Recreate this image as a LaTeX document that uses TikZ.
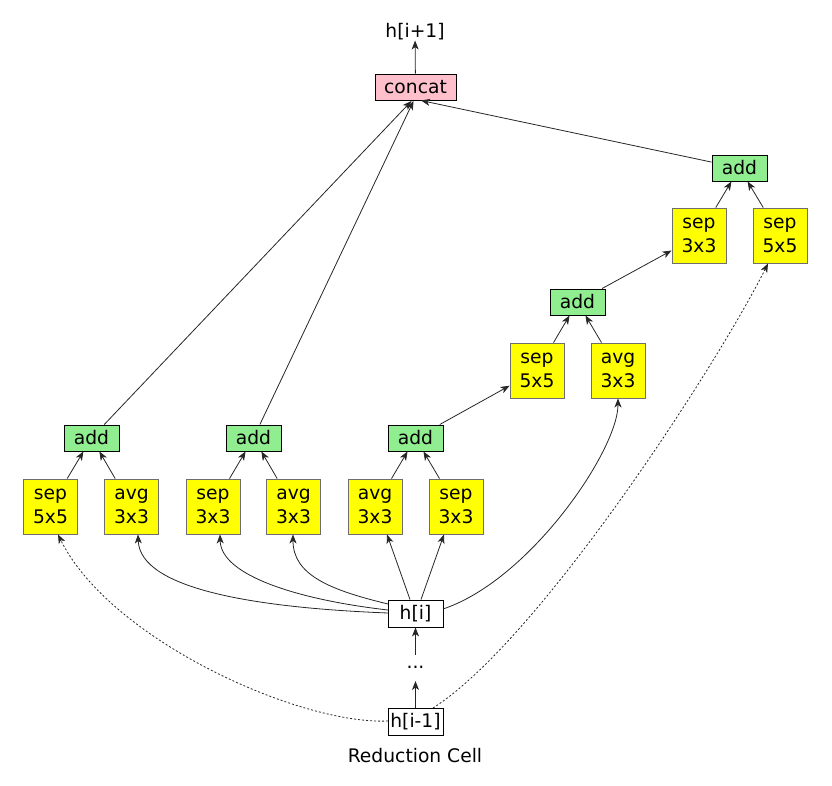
\documentclass[tikz,border=0pt]{standalone}
\usepackage{fontspec}
\setmainfont{DejaVu Sans}
\usetikzlibrary{arrows.meta}
\definecolor{lgreen}{RGB}{144,238,144}
\definecolor{lpink}{RGB}{255,192,203}
\definecolor{lyellow}{RGB}{255,255,0}
\definecolor{ybord}{RGB}{110,110,110}
\begin{document}
\begin{tikzpicture}[x=1pt,y=-1pt,
  every node/.style={font=\fontsize{18.7}{21}\selectfont, inner sep=0pt, align=center},
  opbox/.style={draw=ybord, line width=0.9pt, fill=lyellow, minimum width=54pt, minimum height=55pt, font=\fontsize{18.7}{24}\selectfont},
  addbox/.style={draw=black, line width=0.9pt, fill=lgreen, minimum width=55pt, minimum height=26pt},
  catbox/.style={draw=black, line width=0.9pt, fill=lpink, minimum width=81pt, minimum height=26pt},
  hbox/.style={draw=black, line width=0.9pt, fill=white, minimum width=55pt, minimum height=27pt},
  edge/.style={draw=black!85, line width=0.8pt, -{Stealth[length=9pt,width=7pt,inset=2.5pt]}},
  dotedge/.style={edge, dash pattern=on 2pt off 2pt}
]
\useasboundingbox (0,0) rectangle (832,786);

% nodes
\node (out) at (415,32) {h[i+1]};
\node[catbox] (concat) at (415.5,87) {concat};
\node[addbox] (addT) at (739.5,168) {add};
\node[opbox] (sepT3) at (699,235.5) {sep\\3x3};
\node[opbox] (sepT5) at (780,235.5) {sep\\5x5};
\node[addbox] (addM) at (577.5,302) {add};
\node[opbox] (sepM5) at (537,370.5) {sep\\5x5};
\node[opbox] (avgM3) at (618,370.5) {avg\\3x3};
\node[addbox] (addA) at (91.5,438) {add};
\node[addbox] (addB) at (253.5,438) {add};
\node[addbox] (addC) at (415.5,438) {add};
\node[opbox] (a1) at (50.5,506.5) {sep\\5x5};
\node[opbox] (a2) at (131.5,506.5) {avg\\3x3};
\node[opbox] (b1) at (213,506.5) {sep\\3x3};
\node[opbox] (b2) at (293.5,506.5) {avg\\3x3};
\node[opbox] (c1) at (375,506.5) {avg\\3x3};
\node[opbox] (c2) at (456,506.5) {sep\\3x3};
\node[hbox] (hi) at (415.5,613.5) {h[i]};
\node (dots) at (415.5,667) {...};
\node[hbox] (him) at (415.5,721.5) {h[i-1]};
\node (title) at (415,756) {Reduction Cell};

\coordinate (cA) at (411.5,101);
\coordinate (cB) at (413.5,101);
\coordinate (cT) at (421,100.5);

% upper edges
\draw[edge] (concat) -- (out);
\draw[edge] (addA) -- (cA);
\draw[edge] (addB) -- (cB);
\draw[edge] (addT) -- (cT);
\draw[edge] (sepT3) -- (addT);
\draw[edge] (sepT5) -- (addT);
\draw[edge] (addM) -- (sepT3);
\draw[edge] (sepM5) -- (addM);
\draw[edge] (avgM3) -- (addM);
\draw[edge] (addC) -- (sepM5);
\draw[edge] (a1) -- (addA);
\draw[edge] (a2) -- (addA);
\draw[edge] (b1) -- (addB);
\draw[edge] (b2) -- (addB);
\draw[edge] (c1) -- (addC);
\draw[edge] (c2) -- (addC);

% edges from h[i]
\coordinate (hiL1) at (388,613);
\coordinate (hiL2) at (388,610);
\coordinate (hiL3) at (388,604);
\coordinate (hiR) at (443,609);
\draw[edge] (hiL1) .. controls (260,608) and (140,590) .. (a2.south -| 138,0);
\draw[edge] (hiL2) .. controls (300,600) and (221,576) .. (b1.south -| 220,0);
\draw[edge] (hiL3) .. controls (330,590) and (293,575) .. (b2.south -| 293,0);
\draw[edge] (hi.north -| 410,0) -- (c1.south -| 387,0);
\draw[edge] (hi.north -| 421,0) -- (c2.south -| 444,0);
\draw[edge] (hiR) .. controls (530,580) and (618,450) .. (avgM3.south);

% lower chain
\draw[edge] (dots.north |- 0,655) -- (hi);
\draw[edge] (him) -- (dots.south |- 0,681);

% dotted edges from h[i-1]
\coordinate (himL) at (388,721);
\coordinate (himR) at (433,708);
\draw[dotedge] (himL) .. controls (300,725) and (110,640) .. (a1.south -| 58,0);
\draw[dotedge] (himR) .. controls (540,640) and (720,360) .. (sepT5.south -| 768,0);
\end{tikzpicture}
\end{document}
